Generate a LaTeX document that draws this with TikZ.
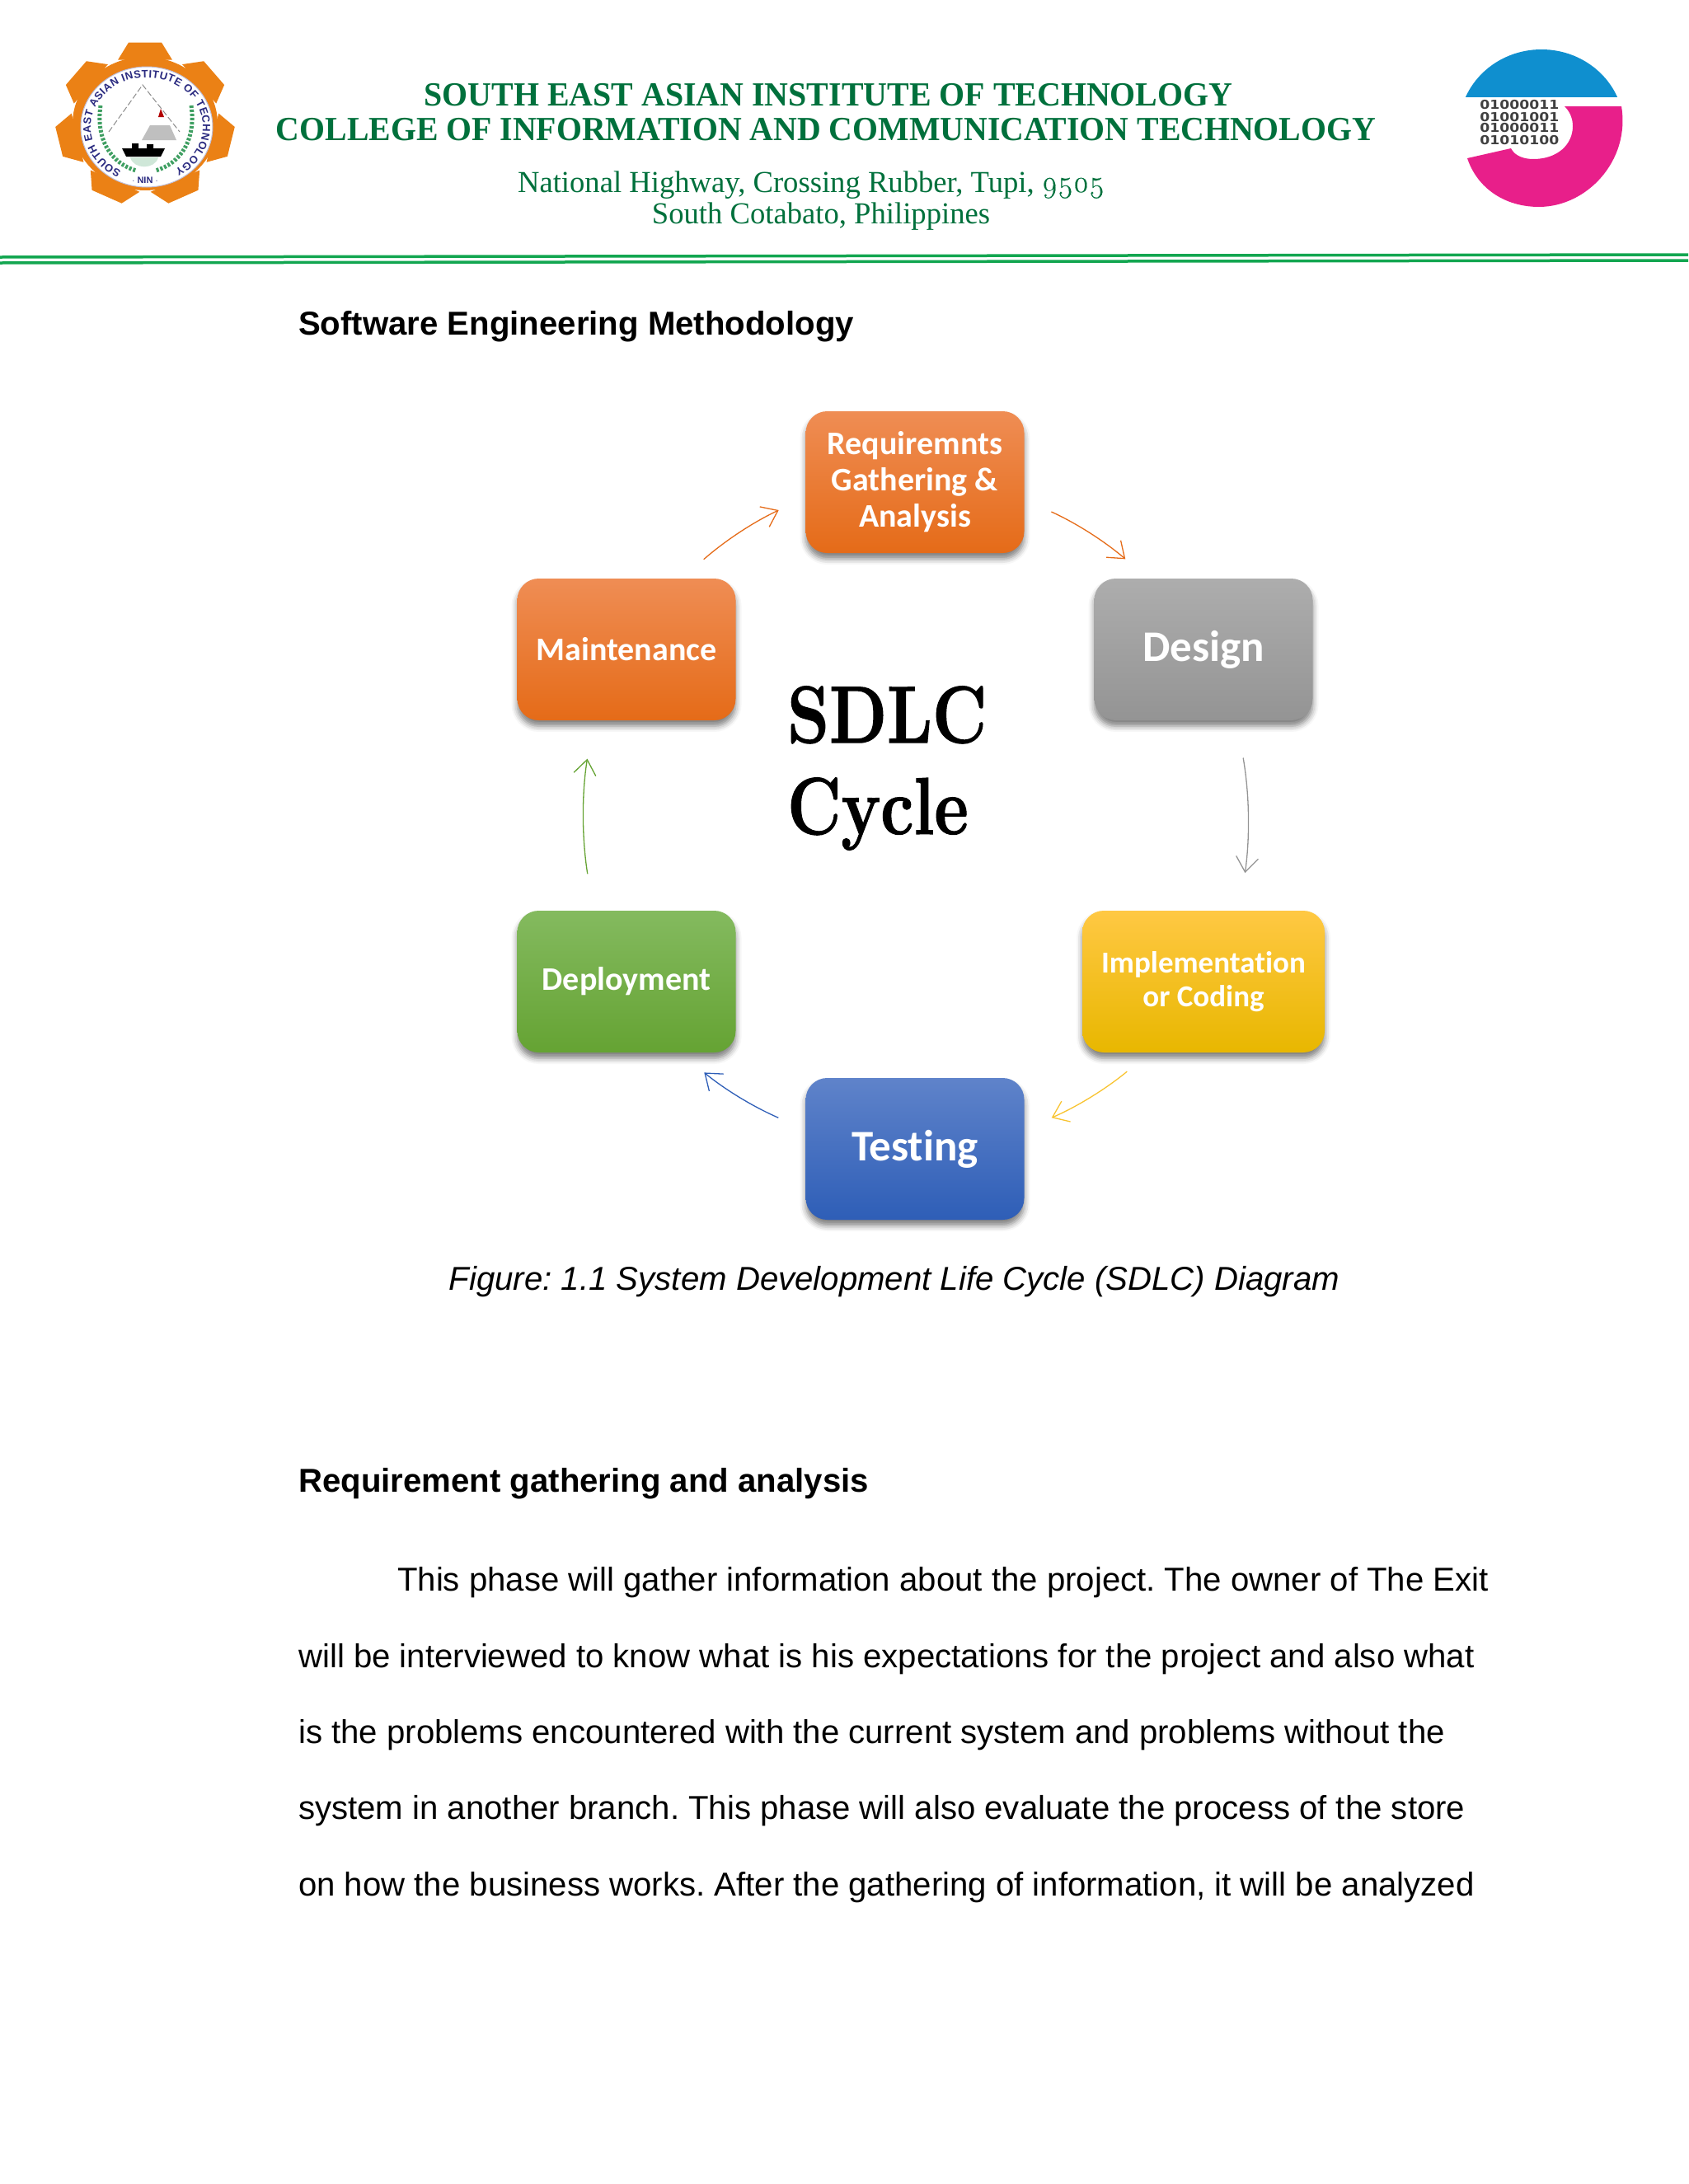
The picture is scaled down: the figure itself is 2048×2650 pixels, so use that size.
\documentclass[tikz,border=0pt]{standalone}
\usepackage{fontspec}
\setmainfont{Liberation Sans}
\newfontfamily\headfont{Liberation Serif}
\newfontfamily\oldnums[Numbers=OldStyle, FakeBold=0.4]{Latin Modern Roman}
\newfontfamily\boxfont[Ligatures=NoCommon]{Carlito}
\newfontfamily\sdlcfont[FakeBold=1.3]{Latin Modern Roman}
\newfontfamily\binfont{DejaVu Sans}
\usetikzlibrary{arrows.meta, decorations.text, shadows.blur}
\frenchspacing

\definecolor{headgreen}{HTML}{00703C}
\definecolor{rulegreen}{HTML}{12A650}
\definecolor{gearorange}{HTML}{EB8115}
\definecolor{ringblue}{HTML}{2A2A80}
\definecolor{laurelgreen}{HTML}{3F9F62}
\definecolor{logoblue}{HTML}{0F8FCF}
\definecolor{logopink}{HTML}{E81F8A}
\definecolor{orangeT}{HTML}{EF8D54}
\definecolor{orangeB}{HTML}{E56B18}
\definecolor{grayT}{HTML}{ADADAD}
\definecolor{grayB}{HTML}{949494}
\definecolor{yellowT}{HTML}{FFC843}
\definecolor{yellowB}{HTML}{E8B700}
\definecolor{greenT}{HTML}{84BA5F}
\definecolor{greenB}{HTML}{65A333}
\definecolor{blueT}{HTML}{5F83CA}
\definecolor{blueB}{HTML}{2E5EB7}

\tikzset{
	stagebox/.style={rounded corners=26pt, minimum width=265pt, minimum height=172pt, inner sep=0pt, align=center, text=white,
		blur shadow={shadow xshift=0pt, shadow yshift=-7pt, shadow blur radius=7pt, shadow opacity=50}},
	cycarrow/.style={-{Straight Barb[length=18pt,width=27pt]}, line width=1.3pt},
	headline/.style={anchor=base, inner sep=0pt, text=headgreen, transform shape},
	bodyline/.style={anchor=base west, inner sep=0pt, font=\fontsize{40.16}{48}\selectfont},
	binline/.style={anchor=base west, inner sep=0pt, text=black!75, font=\binfont\bfseries\fontsize{15}{18}\selectfont, xscale=1.15, transform shape},
}

\begin{document}
\begin{tikzpicture}[x=1pt, y=1pt]
	\useasboundingbox (0,0) rectangle (2048,-2650);

	% left logo
	\begin{scope}[shift={(176,-150)}, yscale=.92]
		\fill[gearorange] (0,0) circle (88);
		\foreach \i in {0,...,6}
			\fill[gearorange, rotate={\i*51.43}] (-33,84) -- (-20,107) -- (20,107) -- (33,84) -- cycle;
	\end{scope}
	\fill[white, draw=ringblue!30, line width=1pt] (178,-154) ellipse [x radius=80, y radius=73];
	\path[decorate, decoration={text along path, text align={fit to path},
		text={|\bfseries\fontsize{13}{13}\selectfont\color{ringblue}|SOUTH EAST ASIAN INSTITUTE OF TECHNOLOGY}}]
		(178,-154) ++(243:68 and 60) arc [start angle=243, end angle=-60, x radius=68, y radius=60];
	\node (nin) at (176,-219) [inner sep=0pt, text=ringblue, font=\bfseries\fontsize{11}{11}\selectfont] {$\cdot$ NIN $\cdot$};
	\draw[black!45, line width=1pt, dash pattern=on 7pt off 3pt] (132,-160) -- (173,-103) -- (218,-160);
	\fill[black!25] (172,-170) -- (214,-170) -- (206,-152) -- (182,-152) -- cycle;
	\fill[red!70!black] (195,-132) -- (199,-142) -- (192,-142) -- cycle;
	\draw[laurelgreen, line width=5pt, dash pattern=on 3pt off 2pt] (122,-128) .. controls (116,-170) and (135,-198) .. (165,-207);
	\draw[laurelgreen, line width=5pt, dash pattern=on 3pt off 2pt] (232,-128) .. controls (238,-170) and (219,-198) .. (189,-207);
	\fill[black] (148,-180) -- (200,-180) -- (195,-190) -- (153,-190) -- cycle;
	\fill[black] (160,-180) rectangle (168,-174) (178,-180) rectangle (186,-175);
	\fill[laurelgreen!25] (158,-191) .. controls (162,-206) and (188,-206) .. (192,-191) -- cycle;

	% right logo
	\begin{scope}
		\clip (1770,-50) rectangle (1975,-117);
		\fill[logoblue] (1870,-155) ellipse [x radius=100, y radius=95];
	\end{scope}
	\fill[logopink] (1898,-129) -- (1967,-129)
		.. controls (1978,-195) and (1925,-251) .. (1867,-251)
		.. controls (1825,-251) and (1792,-228) .. (1780,-192)
		-- (1833,-180) .. controls (1838,-190) and (1850,-193) .. (1860,-193)
		.. controls (1890,-193) and (1908,-175) .. (1908,-153)
		.. controls (1908,-143) and (1904,-135) .. (1898,-129) -- cycle;
	\node (binA) at (1795,-132) [binline] {01000011};
	\node (binB) at (1795,-147) [binline] {01001001};
	\node (binC) at (1795,-160) [binline] {01000011};
	\node (binD) at (1795,-175) [binline] {01010100};

	% letterhead
	\node (schoolname) at (1005,-128.5) [headline, xscale=.973, font=\headfont\bfseries\fontsize{41}{41}\selectfont] {SOUTH EAST ASIAN INSTITUTE OF TECHNOLOGY};
	\node (collegename) at (1002,-170) [headline, xscale=.97, font=\headfont\bfseries\fontsize{41}{41}\selectfont] {COLLEGE OF INFORMATION AND COMMUNICATION TECHNOLOGY};
	\node (addressA) at (984,-233) [headline, xscale=.99, font=\headfont\fontsize{37}{37}\selectfont] {National Highway, Crossing Rubber, Tupi, {\oldnums 9505}};
	\node (addressB) at (996,-271) [headline, xscale=.99, font=\headfont\fontsize{37}{37}\selectfont] {South Cotabato, Philippines};
	\draw[rulegreen, line width=3.5pt] (0,-312) -- (2048,-309);
	\draw[rulegreen, line width=3.5pt] (0,-319) -- (2048,-316);

	\node (methodtitle) at (362,-406) [bodyline, font=\bfseries\fontsize{40.16}{48}\selectfont] {Software Engineering Methodology};

	% cycle boxes
	\node (req) at (1110,-585) [stagebox, top color=orangeT, bottom color=orangeB, font=\boxfont\bfseries\fontsize{40}{44}\selectfont] {Requiremnts\\Gathering \&\\Analysis};
	\node (design) at (1460,-788) [stagebox, top color=grayT, bottom color=grayB, font=\boxfont\bfseries\fontsize{53}{57}\selectfont] {\raisebox{-2pt}{Design}};
	\node (impl) at (1460,-1191) [stagebox, minimum width=294pt, top color=yellowT, bottom color=yellowB, font=\boxfont\bfseries\fontsize{37}{41}\selectfont] {Implementation\\or Coding};
	\node (test) at (1110,-1394) [stagebox, top color=blueT, bottom color=blueB, font=\boxfont\bfseries\fontsize{53}{57}\selectfont] {\raisebox{-3pt}{Testing}};
	\node (deploy) at (760,-1191) [stagebox, top color=greenT, bottom color=greenB, font=\boxfont\bfseries\fontsize{40}{44}\selectfont] {Deployment};
	\node (maint) at (760,-788) [stagebox, top color=orangeT, bottom color=orangeB, font=\boxfont\bfseries\fontsize{40}{44}\selectfont] {\raisebox{2pt}{Maintenance}};

	\draw[cycarrow, orangeB, shorten <=35pt, shorten >=36pt] (maint.52) to[bend left=8] (req.188);
	\draw[cycarrow, orangeB, shorten <=36pt, shorten >=36pt] (req.-9) to[bend left=8] (design.128);
	\draw[cycarrow, grayB, shorten <=46pt, shorten >=46pt] (design.-65) to[bend left=9] (impl.63);
	\draw[cycarrow, yellowT!70!yellowB, shorten <=36pt, shorten >=36pt] (impl.-127.5) to[bend left=8] (test.10.3);
	\draw[cycarrow, blueB, shorten <=36pt, shorten >=38pt] (test.170.6) to[bend left=8] (deploy.-53.8);
	\draw[cycarrow, greenB, shorten <=45pt, shorten >=47pt] (deploy.115.7) to[bend left=9] (maint.-115.7);

	% centre title
	\node (sdlc) at (955,-901) [anchor=base west, inner sep=0pt, xscale=.83, transform shape, font=\sdlcfont\bfseries\fontsize{98}{98}\selectfont] {SDLC};
	\node (cycle) at (955,-1012) [anchor=base west, inner sep=0pt, xscale=.82, transform shape, font=\sdlcfont\bfseries\fontsize{98}{98}\selectfont] {Cycle};

	\node (figcaption) at (1085,-1565) [anchor=base, inner sep=0pt, font=\itshape\fontsize{40.16}{48}\selectfont] {Figure: 1.1 System Development Life Cycle (SDLC) Diagram};

	% body text
	\node (reqtitle) at (362,-1810) [bodyline, font=\bfseries\fontsize{40.16}{48}\selectfont] {Requirement gathering and analysis};
	\node (lineA) at (482,-1930) [bodyline] {This phase will gather information about the project. The owner of The Exit};
	\node (lineB) at (362,-2023) [bodyline] {will be interviewed to know what is his expectations for the project and also what};
	\node (lineC) at (362,-2115) [bodyline] {is the problems encountered with the current system and problems without the};
	\node (lineD) at (362,-2207) [bodyline] {system in another branch. This phase will also evaluate the process of the store};
	\node (lineE) at (362,-2300) [bodyline] {on how the business works. After the gathering of information, it will be analyzed};
\end{tikzpicture}
\end{document}
